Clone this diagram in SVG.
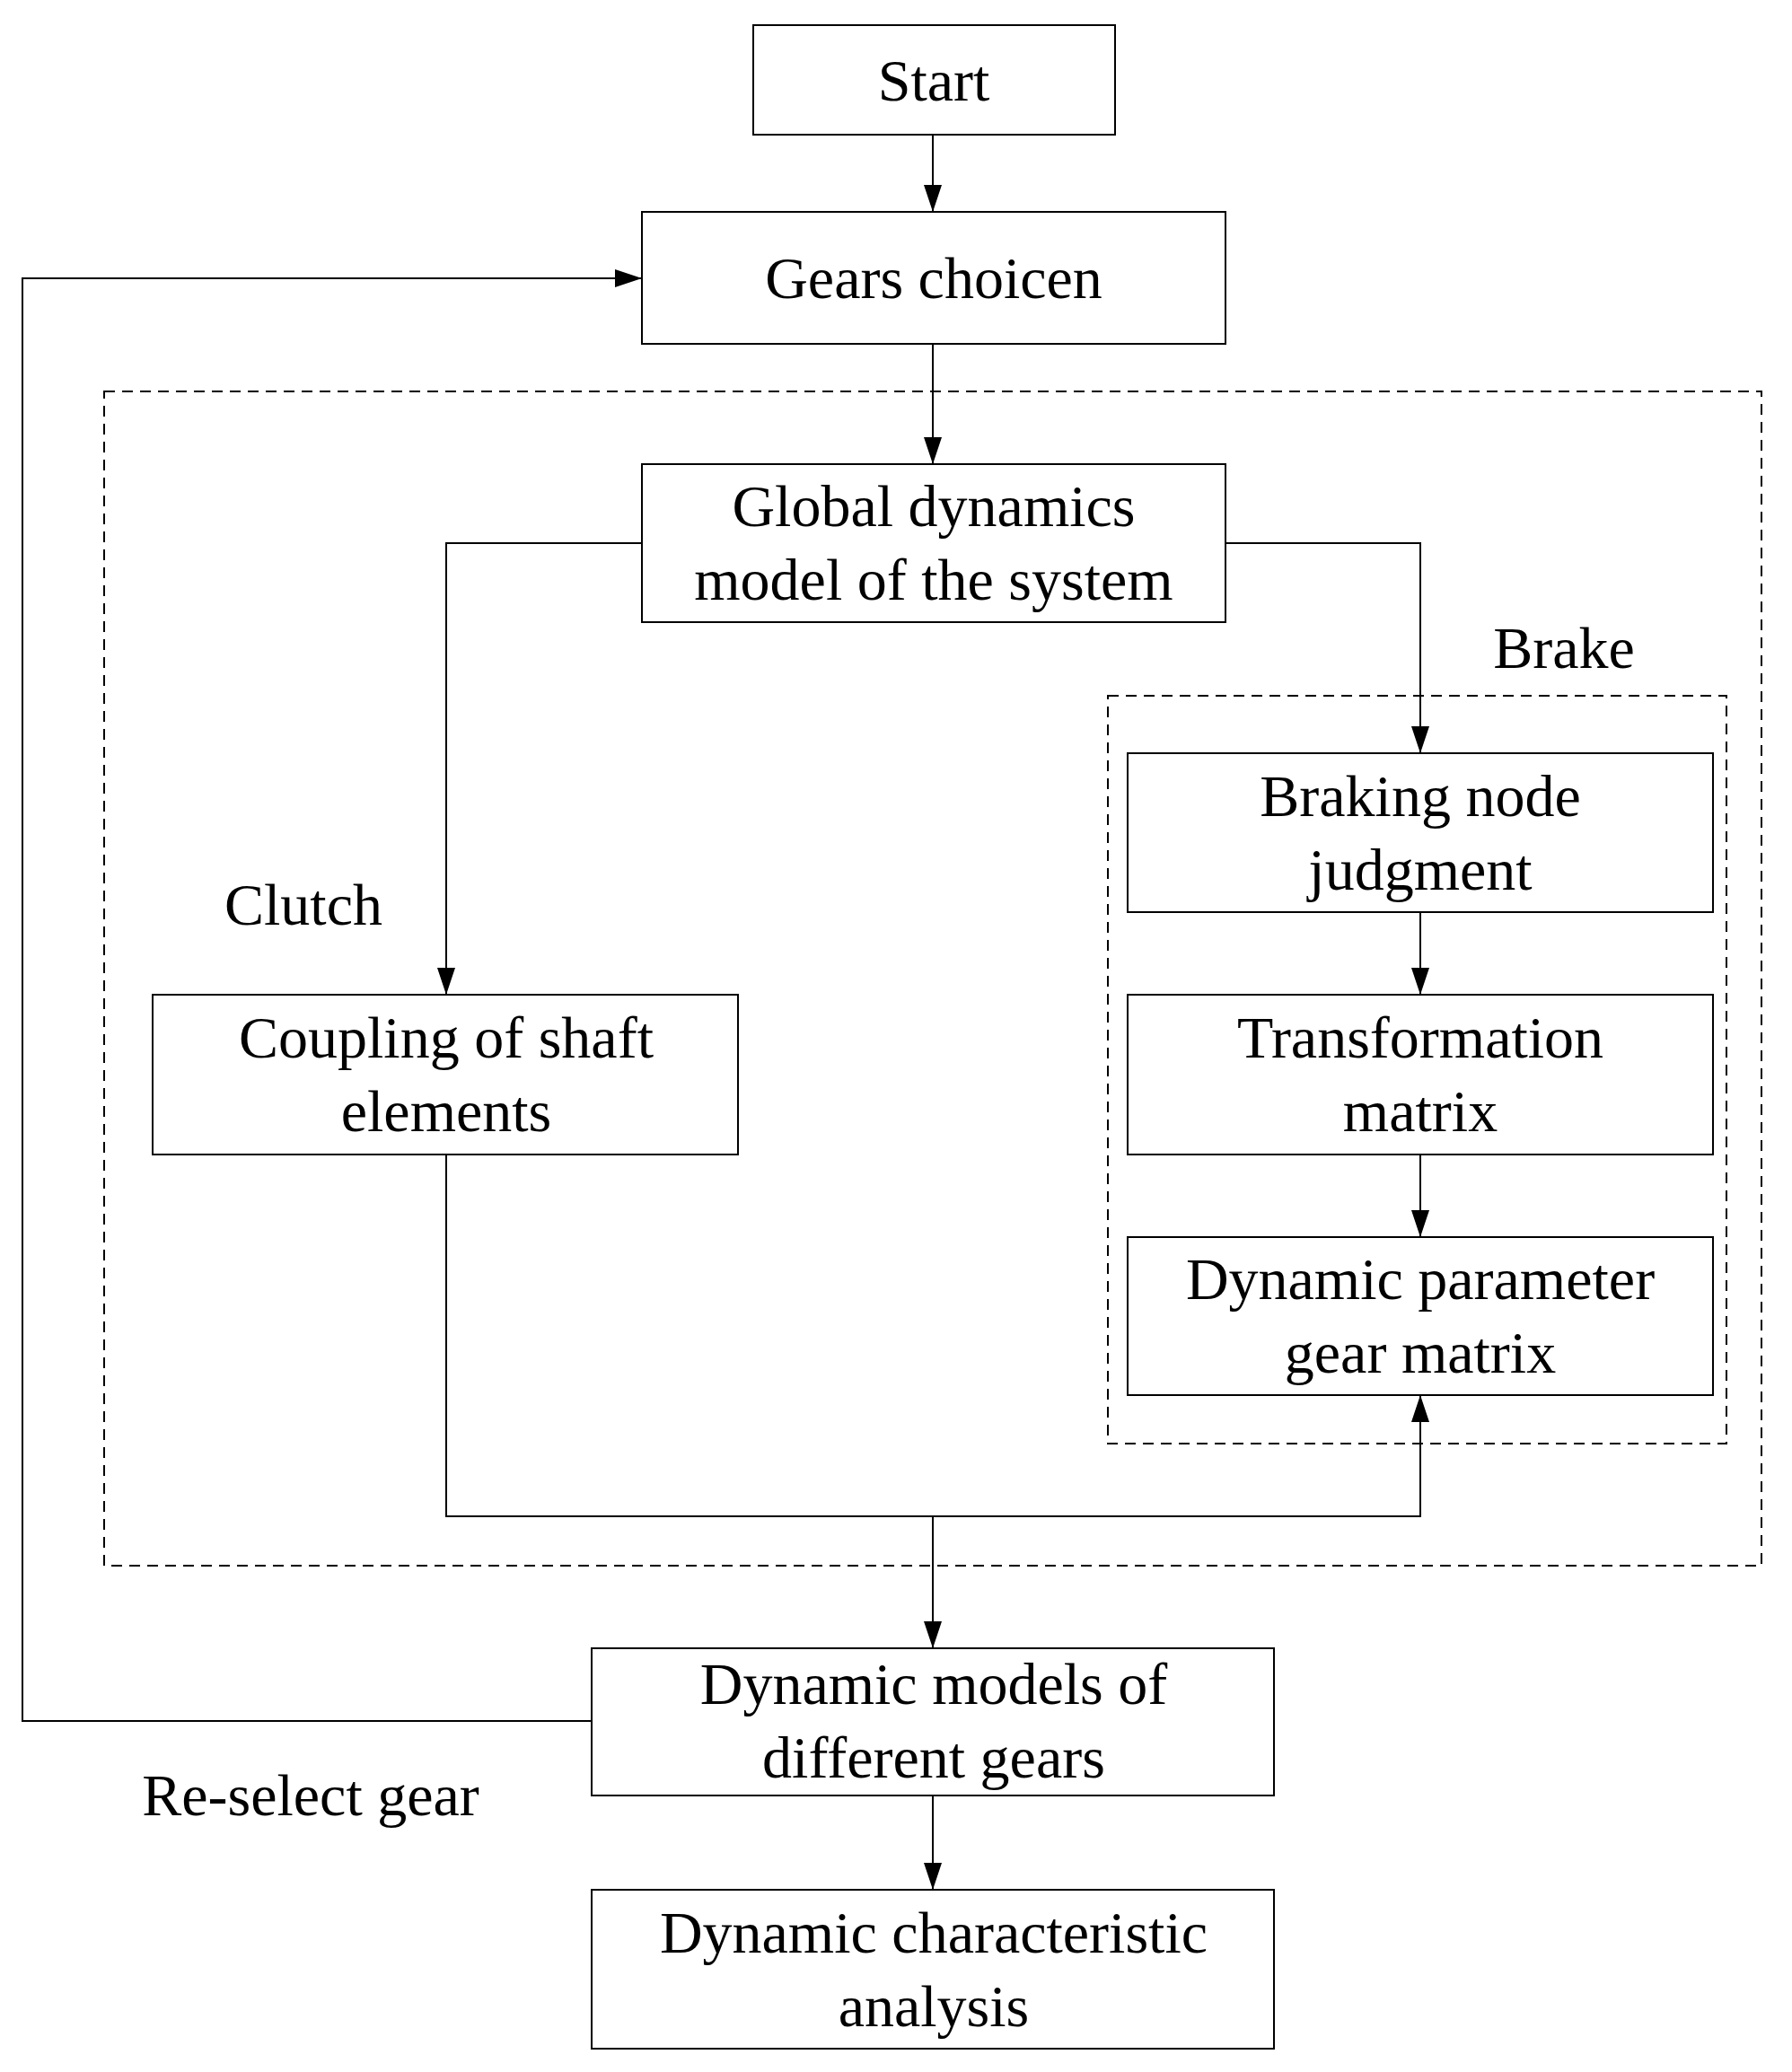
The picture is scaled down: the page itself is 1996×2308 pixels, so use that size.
<svg xmlns="http://www.w3.org/2000/svg" width="1996" height="2308" viewBox="0 0 1996 2308">
<style>
.b{fill:#fff;stroke:#000;stroke-width:2}
.d{fill:none;stroke:#000;stroke-width:2;stroke-dasharray:12 8}
.c{fill:none;stroke:#000;stroke-width:2;marker-end:url(#a)}
text{font-family:"Liberation Serif",serif;font-size:66px;text-anchor:middle;fill:#000}
</style>
<defs><marker id="a" markerWidth="14" markerHeight="10" refX="14" refY="5" orient="auto" markerUnits="userSpaceOnUse" viewBox="0 0 14 10"><path d="M0,0L14,5L0,10z"/></marker>
<marker id="a2" markerWidth="30" markerHeight="20" refX="30" refY="10" orient="auto" markerUnits="userSpaceOnUse"><path d="M0,0L30,10L0,20z"/></marker></defs>
<rect class="d" x="116" y="436" width="1846" height="1308"/>
<rect class="d" x="1234" y="775" width="689" height="833"/>
<g id="connectors" style="marker-end:url(#a2)">
<path class="c" style="marker-end:url(#a2)" d="M1039,150V236"/>
<path class="c" style="marker-end:url(#a2)" d="M1039,383V517"/>
<path class="c" style="marker-end:url(#a2)" d="M715,605H497V1108"/>
<path class="c" style="marker-end:url(#a2)" d="M1365,605H1582V839"/>
<path class="c" style="marker-end:url(#a2)" d="M1582,1016V1108"/>
<path class="c" style="marker-end:url(#a2)" d="M1582,1286V1378"/>
<path fill="none" stroke="#000" stroke-width="2" d="M497,1286V1689H1582V1554"/>
<path class="c" style="marker-end:url(#a2)" d="M1039,1689V1836"/>
<path class="c" style="marker-end:url(#a2)" d="M1039,2000V2105"/>
<path class="c" style="marker-end:url(#a2)" d="M659,1917H25V310H715"/>
</g>
<g id="start"><rect class="b" x="839" y="28" width="403" height="122"/><text x="1040" y="112">Start</text></g>
<g id="gears"><rect class="b" x="715" y="236" width="650" height="147"/><text x="1040" y="332">Gears choicen</text></g>
<g id="global"><rect class="b" x="715" y="517" width="650" height="176"/><text x="1040" y="586">Global dynamics</text><text x="1040" y="668">model of the system</text></g>
<g id="braking"><rect class="b" x="1256" y="839" width="652" height="177"/><text x="1582" y="909">Braking node</text><text x="1582" y="991">judgment</text></g>
<g id="transform"><rect class="b" x="1256" y="1108" width="652" height="178"/><text x="1582" y="1178">Transformation</text><text x="1582" y="1260">matrix</text></g>
<g id="dynparam"><rect class="b" x="1256" y="1378" width="652" height="176"/><text x="1582" y="1447">Dynamic parameter</text><text x="1582" y="1529">gear matrix</text></g>
<g id="coupling"><rect class="b" x="170" y="1108" width="652" height="178"/><text x="497" y="1178">Coupling of shaft</text><text x="497" y="1260">elements</text></g>
<g id="models"><rect class="b" x="659" y="1836" width="760" height="164"/><text x="1040" y="1898">Dynamic models of</text><text x="1040" y="1980">different gears</text></g>
<g id="analysis"><rect class="b" x="659" y="2105" width="760" height="177"/><text x="1040" y="2175">Dynamic characteristic</text><text x="1040" y="2257">analysis</text></g>
<text x="338" y="1030">Clutch</text>
<text x="1742" y="744">Brake</text>
<text x="346" y="2022">Re-select gear</text>
</svg>
